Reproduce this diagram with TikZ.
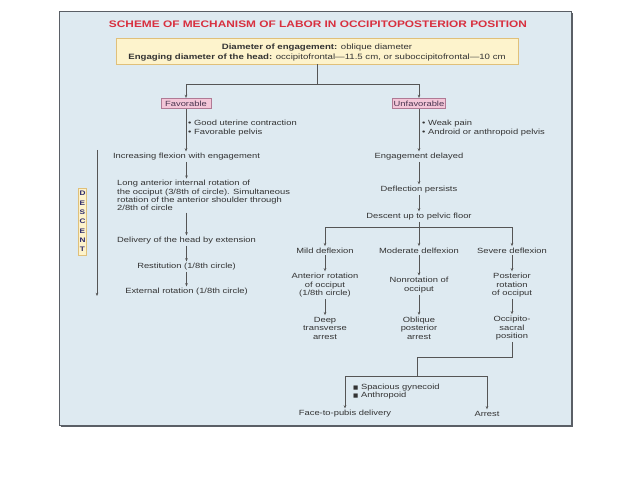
\documentclass[tikz,border=0pt]{standalone}
\usepackage{fontspec}
\setmainfont{Liberation Sans}[FakeStretch=1.25]
\newfontfamily\dejavu{DejaVu Sans}
\usetikzlibrary{arrows.meta}
\definecolor{bg}{HTML}{DEEAF1}
\definecolor{framec}{HTML}{5A5F66}
\definecolor{ybox}{HTML}{FDF3CC}
\definecolor{yborder}{HTML}{E0C07A}
\definecolor{pbox}{HTML}{F3C6D8}
\definecolor{pborder}{HTML}{B07A95}
\definecolor{titlered}{HTML}{D8303F}
\definecolor{txt}{HTML}{333333}
\definecolor{pinktxt}{HTML}{4A3550}
\definecolor{lnc}{HTML}{555555}
\definecolor{navy}{HTML}{2D2A6B}
\newcommand{\sq}{{\dejavu\fontsize{5.5}{6}\selectfont\raisebox{0.2pt}{■}}}
\begin{document}
\begin{tikzpicture}[x=1pt,y=-1pt,
  txtnode/.style={inner sep=1.5pt, yshift=-1.6pt, font=\fontsize{7.5}{8.6}\selectfont, text=txt, align=center},
  ln/.style={draw=lnc, line width=0.7pt},
  arr/.style={ln, -{Stealth[length=3.2pt,width=2.6pt]}},
  pinkbox/.style={draw=pborder, fill=pbox, line width=0.6pt, inner sep=0pt,
    minimum height=10.5pt, font=\fontsize{7.5}{8.6}\selectfont, text=pinktxt}
]
\useasboundingbox (0,0) rectangle (638,478);
\fill[white] (0,0) rectangle (638,478);
% frame
\fill[framec] (61,13) rectangle (573,427);
\draw[framec, fill=bg, line width=0.8pt] (59,11) rectangle (571.5,425.5);

% title
\node[font=\fontsize{9.5}{11}\selectfont\bfseries, text=titlered, inner sep=0pt] (title) at (318,24.5)
  {SCHEME OF MECHANISM OF LABOR IN OCCIPITOPOSTERIOR POSITION};

% diameter box
\node[draw=yborder, fill=ybox, line width=0.6pt, minimum width=402pt, minimum height=26pt,
  inner sep=0pt, font=\fontsize{7.7}{9.5}\selectfont, text=txt, align=center] (diam) at (317,51)
  {\rule{0pt}{9pt}\textbf{Diameter of engagement:} oblique diameter\\
   \textbf{Engaging diameter of the head:} occipitofrontal---11.5 cm, or suboccipitofrontal---10 cm};

\coordinate (j0) at (317,84);
\node[pinkbox, minimum width=50pt] (fav) at (186,103.5) {Favorable};
\node[pinkbox, minimum width=53pt] (unf) at (419,103.5) {Unfavorable};
\draw[ln] (diam) -- (j0);
\draw[arr] (j0) -| (fav);
\draw[arr] (j0) -| (unf);

\node[txtnode, anchor=west, align=left] (favlist) at (186.5,126.5)
  {• Good uterine contraction\\• Favorable pelvis};
\node[txtnode, anchor=west, align=left] (unflist) at (420.5,126.5)
  {• Weak pain\\• Android or anthropoid pelvis};

% left column
\node[txtnode] (l1) at (186.5,155) {Increasing flexion with engagement};
\node[txtnode, anchor=west, align=left, font=\fontsize{7.5}{8.4}\selectfont] (l2) at (115.5,194)
  {Long anterior internal rotation of\\
   the occiput (3/8th of circle). Simultaneous\\
   rotation of the anterior shoulder through\\
   2/8th of circle};
\node[txtnode] (l3) at (186.5,239) {Delivery of the head by extension};
\node[txtnode] (l4) at (186.5,265) {Restitution (1/8th circle)};
\node[txtnode] (l5) at (186.5,290) {External rotation (1/8th circle)};
\draw[arr] (fav) -- (fav |- l1.north);
\draw[arr] (l1) -- (l1 |- l2.north);
\draw[arr] (l2.south -| l3) -- (l3);
\draw[arr] (l3) -- (l4);
\draw[arr] (l4) -- (l5);

% descent
\node[draw=yborder, fill=ybox, line width=0.6pt, minimum width=8pt, minimum height=67pt,
  inner sep=0pt, font=\fontsize{6.6}{9.3}\selectfont\bfseries, text=navy, align=center] (desc) at (82.5,221.5)
  {D\\E\\S\\C\\E\\N\\T};
\coordinate (dtop) at (97,150);
\coordinate (dbot) at (97,296);
\draw[arr] (dtop) -- (dbot);

% right column
\node[txtnode] (r1) at (419,155) {Engagement delayed};
\node[txtnode] (r2) at (419,188) {Deflection persists};
\node[txtnode] (r3) at (419,215) {Descent up to pelvic floor};
\draw[arr] (unf) -- (r1);
\draw[arr] (r1) -- (r2);
\draw[arr] (r2) -- (r3);
\coordinate (j1) at (419,227);
\draw[ln] (r3) -- (j1);

\node[txtnode] (m1) at (325,249) {Mild deflexion};
\node[txtnode] (m2) at (419,249) {Moderate delfexion};
\node[txtnode] (m3) at (512,249) {Severe deflexion};
\draw[arr] (j1) -| (m1);
\draw[arr] (j1) -- (m2);
\draw[arr] (j1) -| (m3);

\node[txtnode] (a1) at (325,283.5) {Anterior rotation\\of occiput\\(1/8th circle)};
\node[txtnode] (a2) at (419,283.5) {Nonrotation of\\occiput};
\node[txtnode] (a3) at (512,283.5) {Posterior\\rotation\\of occiput};
\draw[arr] (m1) -- (a1);
\draw[arr] (m2) -- (a2);
\draw[arr] (m3) -- (a3);

\node[txtnode] (b1) at (325,326.5) {Deep\\transverse\\arrest};
\node[txtnode] (b2) at (419,326.5) {Oblique\\posterior\\arrest};
\node[txtnode] (b3) at (512,326.5) {Occipito-\\sacral\\position};
\draw[arr] (a1) -- (b1);
\draw[arr] (a2) -- (b2);
\draw[arr] (a3) -- (b3);

\coordinate (j3) at (417,357);
\coordinate (j4) at (417,376);
\node[txtnode] (c1) at (345,412) {Face-to-pubis delivery};
\node[txtnode] (c2) at (487,412) {Arrest};
\draw[ln] (b3) |- (j3) -- (j4);
\draw[arr] (j4) -| (c1);
\draw[arr] (j4) -| (c2);
\node[txtnode, anchor=west, align=left] (clist) at (351.5,390)
  {\sq\ Spacious gynecoid\\\sq\ Anthropoid};
\end{tikzpicture}
\end{document}
